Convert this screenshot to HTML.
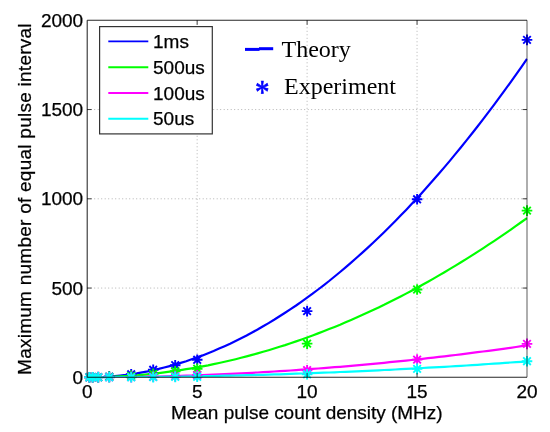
<!DOCTYPE html>
<html><head><meta charset="utf-8"><title>Maximum number of equal pulse interval</title>
<style>html,body{margin:0;padding:0;background:#fff}svg{display:block}text{font-family:"Liberation Sans",Arial,Helvetica,sans-serif;font-size:19px;fill:#000;stroke:#000;stroke-width:0.25px}.s{stroke:none;font-family:"Liberation Serif","Times New Roman",serif;font-size:24px}</style></head><body>
<svg width="550" height="432" viewBox="0 0 550 432">
<rect width="550" height="432" fill="#fff"/>
<g stroke="#000" stroke-opacity="0.3" stroke-width="1" stroke-dasharray="1 2.5" fill="none">
<line x1="197.15" y1="20.30" x2="197.15" y2="377.30"/>
<line x1="307.10" y1="20.30" x2="307.10" y2="377.30"/>
<line x1="417.05" y1="20.30" x2="417.05" y2="377.30"/>
<line x1="87.20" y1="288.05" x2="527.00" y2="288.05"/>
<line x1="87.20" y1="198.80" x2="527.00" y2="198.80"/>
<line x1="87.20" y1="109.55" x2="527.00" y2="109.55"/>
</g>
<defs><clipPath id="c"><rect x="87.20" y="20.30" width="440.30" height="357.00"/></clipPath></defs>
<g fill="none" stroke-width="2.2" clip-path="url(#c)">
<polyline stroke="#0000ff" points="87.2,377.3 92.7,377.3 98.2,377.1 103.7,376.9 109.2,376.5 114.7,376.1 120.2,375.5 125.7,374.9 131.2,374.1 136.7,373.3 142.2,372.3 147.7,371.3 153.2,370.1 158.7,368.9 164.2,367.5 169.7,366.1 175.2,364.6 180.7,362.9 186.2,361.2 191.7,359.3 197.2,357.4 202.6,355.4 208.1,353.2 213.6,351.0 219.1,348.6 224.6,346.2 230.1,343.7 235.6,341.0 241.1,338.3 246.6,335.5 252.1,332.5 257.6,329.5 263.1,326.3 268.6,323.1 274.1,319.8 279.6,316.3 285.1,312.8 290.6,309.2 296.1,305.5 301.6,301.6 307.1,297.7 312.6,293.7 318.1,289.5 323.6,285.3 329.1,281.0 334.6,276.5 340.1,272.0 345.6,267.4 351.1,262.7 356.6,257.8 362.1,252.9 367.6,247.9 373.1,242.8 378.6,237.5 384.1,232.2 389.6,226.8 395.1,221.3 400.6,215.6 406.1,209.9 411.6,204.1 417.1,198.2 422.5,192.2 428.0,186.0 433.5,179.8 439.0,173.5 444.5,167.1 450.0,160.6 455.5,153.9 461.0,147.2 466.5,140.4 472.0,133.5 477.5,126.5 483.0,119.4 488.5,112.1 494.0,104.8 499.5,97.4 505.0,89.9 510.5,82.3 516.0,74.6 521.5,66.8 527.0,58.9"/>
<polyline stroke="#00ff00" points="87.2,377.3 92.7,377.3 98.2,377.2 103.7,377.1 109.2,376.9 114.7,376.7 120.2,376.4 125.7,376.1 131.2,375.7 136.7,375.3 142.2,374.8 147.7,374.3 153.2,373.7 158.7,373.1 164.2,372.4 169.7,371.7 175.2,370.9 180.7,370.1 186.2,369.2 191.7,368.3 197.2,367.3 202.6,366.3 208.1,365.3 213.6,364.1 219.1,363.0 224.6,361.8 230.1,360.5 235.6,359.2 241.1,357.8 246.6,356.4 252.1,354.9 257.6,353.4 263.1,351.8 268.6,350.2 274.1,348.5 279.6,346.8 285.1,345.1 290.6,343.2 296.1,341.4 301.6,339.5 307.1,337.5 312.6,335.5 318.1,333.4 323.6,331.3 329.1,329.1 334.6,326.9 340.1,324.7 345.6,322.3 351.1,320.0 356.6,317.6 362.1,315.1 367.6,312.6 373.1,310.0 378.6,307.4 384.1,304.8 389.6,302.0 395.1,299.3 400.6,296.5 406.1,293.6 411.6,290.7 417.1,287.7 422.5,284.7 428.0,281.7 433.5,278.6 439.0,275.4 444.5,272.2 450.0,268.9 455.5,265.6 461.0,262.3 466.5,258.9 472.0,255.4 477.5,251.9 483.0,248.3 488.5,244.7 494.0,241.1 499.5,237.4 505.0,233.6 510.5,229.8 516.0,225.9 521.5,222.0 527.0,218.1"/>
<polyline stroke="#ff00ff" points="87.2,377.3 92.7,377.3 98.2,377.3 103.7,377.3 109.2,377.2 114.7,377.2 120.2,377.1 125.7,377.1 131.2,377.0 136.7,376.9 142.2,376.8 147.7,376.7 153.2,376.6 158.7,376.5 164.2,376.3 169.7,376.2 175.2,376.0 180.7,375.9 186.2,375.7 191.7,375.5 197.2,375.3 202.6,375.1 208.1,374.9 213.6,374.7 219.1,374.4 224.6,374.2 230.1,373.9 235.6,373.7 241.1,373.4 246.6,373.1 252.1,372.8 257.6,372.5 263.1,372.2 268.6,371.9 274.1,371.5 279.6,371.2 285.1,370.9 290.6,370.5 296.1,370.1 301.6,369.7 307.1,369.3 312.6,368.9 318.1,368.5 323.6,368.1 329.1,367.7 334.6,367.2 340.1,366.8 345.6,366.3 351.1,365.8 356.6,365.4 362.1,364.9 367.6,364.4 373.1,363.8 378.6,363.3 384.1,362.8 389.6,362.2 395.1,361.7 400.6,361.1 406.1,360.6 411.6,360.0 417.1,359.4 422.5,358.8 428.0,358.2 433.5,357.6 439.0,356.9 444.5,356.3 450.0,355.6 455.5,355.0 461.0,354.3 466.5,353.6 472.0,352.9 477.5,352.2 483.0,351.5 488.5,350.8 494.0,350.1 499.5,349.3 505.0,348.6 510.5,347.8 516.0,347.0 521.5,346.2 527.0,345.5"/>
<polyline stroke="#00ffff" points="87.2,377.3 92.7,377.3 98.2,377.3 103.7,377.3 109.2,377.3 114.7,377.2 120.2,377.2 125.7,377.2 131.2,377.1 136.7,377.1 142.2,377.1 147.7,377.0 153.2,376.9 158.7,376.9 164.2,376.8 169.7,376.7 175.2,376.7 180.7,376.6 186.2,376.5 191.7,376.4 197.2,376.3 202.6,376.2 208.1,376.1 213.6,376.0 219.1,375.9 224.6,375.7 230.1,375.6 235.6,375.5 241.1,375.3 246.6,375.2 252.1,375.1 257.6,374.9 263.1,374.8 268.6,374.6 274.1,374.4 279.6,374.3 285.1,374.1 290.6,373.9 296.1,373.7 301.6,373.5 307.1,373.3 312.6,373.1 318.1,372.9 323.6,372.7 329.1,372.5 334.6,372.3 340.1,372.0 345.6,371.8 351.1,371.6 356.6,371.3 362.1,371.1 367.6,370.8 373.1,370.6 378.6,370.3 384.1,370.0 389.6,369.8 395.1,369.5 400.6,369.2 406.1,368.9 411.6,368.6 417.1,368.3 422.5,368.0 428.0,367.7 433.5,367.4 439.0,367.1 444.5,366.8 450.0,366.5 455.5,366.1 461.0,365.8 466.5,365.5 472.0,365.1 477.5,364.8 483.0,364.4 488.5,364.0 494.0,363.7 499.5,363.3 505.0,362.9 510.5,362.5 516.0,362.2 521.5,361.8 527.0,361.4"/>
</g>
<defs><path id="m" d="M-5.3 0H5.3M0 -5.3V5.3M-3.8 -3.8L3.8 3.8M-3.8 3.8L3.8 -3.8" fill="none" stroke-width="1.9"/></defs>
<g stroke="#0000ff">
<use href="#m" x="89.4" y="377.3"/>
<use href="#m" x="92.7" y="377.3"/>
<use href="#m" x="98.2" y="377.1"/>
<use href="#m" x="109.2" y="376.6"/>
<use href="#m" x="131.2" y="374.3"/>
<use href="#m" x="153.2" y="369.8"/>
<use href="#m" x="175.2" y="365.2"/>
<use href="#m" x="197.2" y="359.8"/>
<use href="#m" x="307.1" y="311.1"/>
<use href="#m" x="417.1" y="199.3"/>
<use href="#m" x="527.0" y="39.9"/>
</g>
<g stroke="#00ff00">
<use href="#m" x="89.4" y="377.3"/>
<use href="#m" x="92.7" y="377.3"/>
<use href="#m" x="98.2" y="377.3"/>
<use href="#m" x="109.2" y="376.9"/>
<use href="#m" x="131.2" y="375.9"/>
<use href="#m" x="153.2" y="373.9"/>
<use href="#m" x="175.2" y="371.2"/>
<use href="#m" x="197.2" y="368.7"/>
<use href="#m" x="307.1" y="343.6"/>
<use href="#m" x="417.1" y="289.5"/>
<use href="#m" x="527.0" y="210.6"/>
</g>
<g stroke="#ff00ff">
<use href="#m" x="89.4" y="377.3"/>
<use href="#m" x="92.7" y="377.3"/>
<use href="#m" x="98.2" y="377.3"/>
<use href="#m" x="109.2" y="377.3"/>
<use href="#m" x="131.2" y="377.1"/>
<use href="#m" x="153.2" y="376.8"/>
<use href="#m" x="175.2" y="376.1"/>
<use href="#m" x="197.2" y="375.2"/>
<use href="#m" x="307.1" y="370.2"/>
<use href="#m" x="417.1" y="359.6"/>
<use href="#m" x="527.0" y="343.9"/>
</g>
<g stroke="#00ffff">
<use href="#m" x="89.4" y="377.3"/>
<use href="#m" x="92.7" y="377.3"/>
<use href="#m" x="98.2" y="377.3"/>
<use href="#m" x="109.2" y="377.3"/>
<use href="#m" x="131.2" y="377.3"/>
<use href="#m" x="153.2" y="377.1"/>
<use href="#m" x="175.2" y="376.9"/>
<use href="#m" x="197.2" y="376.8"/>
<use href="#m" x="307.1" y="374.3"/>
<use href="#m" x="417.1" y="368.9"/>
<use href="#m" x="527.0" y="361.2"/>
</g>
<g stroke="#000" fill="none">
<path d="M87.20 20.30V377.30H527.00" stroke-opacity="0.85" stroke-width="1.05"/>
<path d="M87.20 20.30H527.00" stroke-opacity="0.85" stroke-width="1.05"/>
<path d="M527.00 20.30V377.30" stroke-opacity="0.4" stroke-width="1.6"/>
<path d="M197.15 377.30v-4.4M197.15 20.30v4.4M307.10 377.30v-4.4M307.10 20.30v4.4M417.05 377.30v-4.4M417.05 20.30v4.4M87.20 288.05h4.4M527.00 288.05h-4.4M87.20 198.80h4.4M527.00 198.80h-4.4M87.20 109.55h4.4M527.00 109.55h-4.4" stroke-opacity="0.75" stroke-width="1"/>
</g>
<text x="83.2" y="383.9" text-anchor="end">0</text>
<text x="83.2" y="294.7" text-anchor="end">500</text>
<text x="83.2" y="205.4" text-anchor="end">1000</text>
<text x="83.2" y="116.2" text-anchor="end">1500</text>
<text x="83.2" y="26.9" text-anchor="end">2000</text>
<text x="87.2" y="398.4" text-anchor="middle">0</text>
<text x="197.2" y="398.4" text-anchor="middle">5</text>
<text x="307.1" y="398.4" text-anchor="middle">10</text>
<text x="417.1" y="398.4" text-anchor="middle">15</text>
<text x="527.0" y="398.4" text-anchor="middle">20</text>
<text x="171" y="418.9" textLength="271.5" lengthAdjust="spacing">Mean pulse count density (MHz)</text>
<text transform="translate(30.7 374.9) rotate(-90)" textLength="351.5" lengthAdjust="spacing">Maximum number of equal pulse interval</text>
<rect x="99.6" y="26.6" width="112.7" height="107.3" fill="#fff" stroke="#000" stroke-opacity="0.8" stroke-width="1.2"/>
<line x1="108.3" y1="41.4" x2="148.3" y2="41.4" stroke="#0000ff" stroke-width="1.9"/>
<text x="153" y="48.0">1ms</text>
<line x1="108.3" y1="67.2" x2="148.3" y2="67.2" stroke="#00ff00" stroke-width="1.9"/>
<text x="153" y="73.8">500us</text>
<line x1="108.3" y1="93.0" x2="148.3" y2="93.0" stroke="#ff00ff" stroke-width="1.9"/>
<text x="153" y="99.6">100us</text>
<line x1="108.3" y1="118.7" x2="148.3" y2="118.7" stroke="#00ffff" stroke-width="1.9"/>
<text x="153" y="125.3">50us</text>
<rect x="245" y="47.9" width="14.5" height="3" fill="#0000ff"/><rect x="259" y="47.2" width="14.2" height="3" fill="#0000ff"/>
<text class="s" x="281.5" y="57.4">Theory</text>
<text class="s" x="284" y="94.2">Experiment</text>
<text class="s" transform="translate(262.2 86.9) scale(1 1.17)" x="0" y="13.35" text-anchor="middle" style="font-size:29px;fill:#0000ff;stroke:#0000ff;stroke-width:0.6px">*</text>
</svg></body></html>
